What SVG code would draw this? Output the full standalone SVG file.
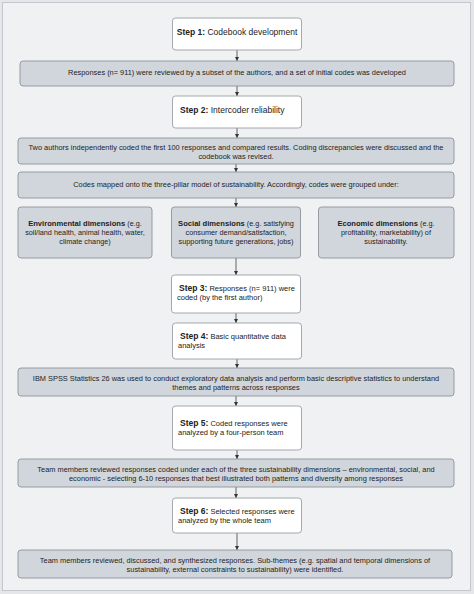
<svg xmlns="http://www.w3.org/2000/svg" width="474" height="594" viewBox="0 0 474 594">
<defs>
<style>
text{font-family:"Liberation Sans",Arial,sans-serif;fill:#222;}
.g{fill:#d1d6dd;stroke:#8e949b;stroke-width:0.9;}
.w{fill:#ffffff;stroke:#9a9fa6;stroke-width:0.9;}
.t{font-size:7.4px;text-anchor:middle;}
.d{font-size:7.3px;text-anchor:middle;}
.s{font-size:8.5px;}
.s2{font-size:7.5px;}
.b{font-weight:bold;}
.c line{stroke:#555;stroke-width:0.9;}
</style>
<marker id="ah" viewBox="0 0 10 10" refX="10" refY="5" markerWidth="4" markerHeight="4" orient="auto" markerUnits="userSpaceOnUse">
<path d="M0,0 L10,5 L0,10 Z" fill="#333"/>
</marker>
</defs>
<rect x="0" y="0" width="474" height="594" fill="#e4e6e9"/>
<rect x="2.5" y="2.5" width="468" height="588" fill="#eff1f3" stroke="#c4c8cd" stroke-width="1"/>

<g class="c">
<line x1="237" y1="50" x2="237" y2="61" marker-end="url(#ah)"/>
<line x1="237" y1="86" x2="237" y2="96" marker-end="url(#ah)"/>
<line x1="237" y1="128" x2="237" y2="138" marker-end="url(#ah)"/>
<line x1="236" y1="164" x2="236" y2="172" marker-end="url(#ah)"/>
<line x1="236" y1="198" x2="236" y2="207" marker-end="url(#ah)"/>
<line x1="236" y1="258" x2="236" y2="275" marker-end="url(#ah)"/>
<line x1="236" y1="313" x2="236" y2="323" marker-end="url(#ah)"/>
<line x1="237" y1="359" x2="237" y2="368" marker-end="url(#ah)"/>
<line x1="236" y1="396" x2="236" y2="406" marker-end="url(#ah)"/>
<line x1="237" y1="450" x2="237" y2="459" marker-end="url(#ah)"/>
<line x1="236" y1="487" x2="236" y2="498" marker-end="url(#ah)"/>
<line x1="237" y1="533" x2="237" y2="550" marker-end="url(#ah)"/>
</g>

<g id="step1">
<rect class="w" x="172.5" y="18" width="129" height="32" rx="3"/>
<text class="s" x="237" y="35" text-anchor="middle"><tspan class="b">Step 1:</tspan> Codebook development</text>
</g>
<g id="box-responses">
<rect class="g" x="20" y="61" width="434" height="25" rx="3"/>
<text class="t" x="237" y="75">Responses (n= 911) were reviewed by a subset of the authors, and a set of initial codes was developed</text>
</g>
<g id="step2">
<rect class="w" x="172.5" y="96" width="129" height="32" rx="3"/>
<text class="s" x="180" y="113"><tspan class="b">Step 2:</tspan> Intercoder reliability</text>
</g>
<g id="box-twoauthors">
<rect class="g" x="18" y="138" width="436" height="26" rx="3"/>
<text class="t" x="236" y="149.5">Two authors independently coded the first 100 responses and compared results. Coding discrepancies were discussed and the</text>
<text class="t" x="236" y="158.5">codebook was revised.</text>
</g>
<g id="box-codes">
<rect class="g" x="18" y="172" width="436" height="26" rx="3"/>
<text class="t" x="236" y="187">Codes mapped onto the three-pillar model of sustainability. Accordingly, codes were grouped under:</text>
</g>
<g id="env">
<rect class="g" x="18" y="207" width="134" height="51" rx="3"/>
<text class="d" x="85" y="225.5"><tspan class="b" font-size="7.6px">Environmental dimensions</tspan> (e.g.</text>
<text class="d" x="85" y="234.5">soil/land health, animal health, water,</text>
<text class="d" x="85" y="243.5">climate change)</text>
</g>
<g id="social">
<rect class="g" x="171.5" y="207" width="129" height="51" rx="3"/>
<text class="d" x="236" y="225.5"><tspan class="b" font-size="7.6px">Social dimensions</tspan> (e.g. satisfying</text>
<text class="d" x="236" y="234.5">consumer demand/satisfaction,</text>
<text class="d" x="236" y="243.5">supporting future generations, jobs)</text>
</g>
<g id="econ">
<rect class="g" x="318.5" y="207" width="135.5" height="51" rx="3"/>
<text class="d" x="386" y="225.5"><tspan class="b" font-size="7.6px">Economic dimensions</tspan> (e.g.</text>
<text class="d" x="386" y="234.5">profitability, marketability) of</text>
<text class="d" x="386" y="243.5">sustainability.</text>
</g>
<g id="step3">
<rect class="w" x="171.5" y="275" width="129" height="38" rx="3"/>
<text class="s2" x="179" y="290.5"><tspan class="b s">Step 3:</tspan> Responses (n= 911) were</text>
<text class="s2" x="177" y="299.5">coded (by the first author)</text>
</g>
<g id="step4">
<rect class="w" x="172.5" y="323" width="129" height="36" rx="3"/>
<text class="s2" x="180" y="339"><tspan class="b s">Step 4:</tspan> Basic quantitative data</text>
<text class="s2" x="178" y="348">analysis</text>
</g>
<g id="box-ibm">
<rect class="g" x="18" y="368" width="436" height="28" rx="3"/>
<text class="t" x="236" y="380.5">IBM SPSS Statistics 26 was used to conduct exploratory data analysis and perform basic descriptive statistics to understand</text>
<text class="t" x="236" y="389.5">themes and patterns across responses</text>
</g>
<g id="step5">
<rect class="w" x="172.5" y="406" width="129" height="44" rx="3"/>
<text class="s2" x="180" y="425.5"><tspan class="b s">Step 5:</tspan> Coded responses were</text>
<text class="s2" x="178" y="434.5">analyzed by a four-person team</text>
</g>
<g id="box-team">
<rect class="g" x="18" y="459" width="436" height="28" rx="3"/>
<text class="t" x="236" y="471.5">Team members reviewed responses coded under each of the three sustainability dimensions – environmental, social, and</text>
<text class="t" x="236" y="480.5">economic - selecting 6-10 responses that best illustrated both patterns and diversity among responses</text>
</g>
<g id="step6">
<rect class="w" x="172.5" y="498" width="129" height="35" rx="3"/>
<text class="s2" x="180" y="513.5"><tspan class="b s">Step 6:</tspan> Selected responses were</text>
<text class="s2" x="178" y="522.5">analyzed by the whole team</text>
</g>
<g id="box-final">
<rect class="g" x="18" y="550" width="434" height="28" rx="3"/>
<text class="t" x="235" y="562.5">Team members reviewed, discussed, and synthesized responses. Sub-themes (e.g. spatial and temporal dimensions of</text>
<text class="t" x="235" y="571.5">sustainability, external constraints to sustainability) were identified.</text>
</g>
</svg>
